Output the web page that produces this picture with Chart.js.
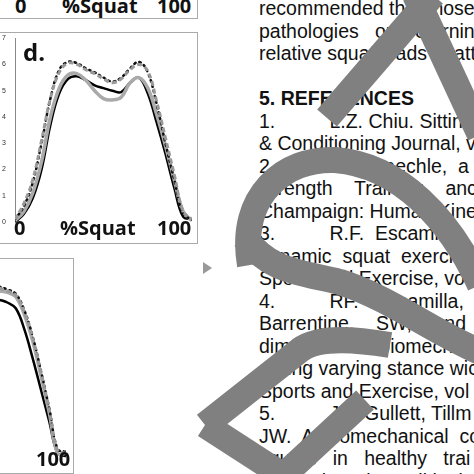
<!DOCTYPE html><html><head><meta charset="utf-8">
<script src="https://cdn.jsdelivr.net/npm/chart.js"></script>
<style>
body{margin:0;width:474px;height:474px;overflow:hidden;background:#fff;position:relative;font-family:"Liberation Sans",Arial,sans-serif}
.box{position:absolute;border:1.5px solid #aaa;box-sizing:border-box;background:#fff}
.lbl{position:absolute;font-family:"Open Sans","DejaVu Sans",sans-serif;font-weight:bold;font-size:20px;color:#111;line-height:1}
#txt{position:absolute;left:259px;top:-3px;font-size:19.5px;line-height:22.5px;color:#111;white-space:pre}
svg{position:absolute;left:0;top:0}
</style></head><body>
<div class="box" style="left:-2px;top:-10px;width:200px;height:29px"></div>
<div class="lbl" style="left:15px;top:-4px">0</div><div class="lbl" style="left:62px;top:-4px">%Squat</div><div class="lbl" style="left:157px;top:-4px">100</div>
<div class="box" style="left:-2px;top:32px;width:200px;height:212px"><canvas id="c1"></canvas></div>
<div class="lbl" style="left:23px;top:40px;font-size:24px">d.</div>
<div class="lbl" style="left:14px;top:218px">0</div><div class="lbl" style="left:60px;top:218px">%Squat</div><div class="lbl" style="left:157px;top:218px">100</div>
<div class="box" style="left:-2px;top:258px;width:76px;height:216px"><canvas id="c2"></canvas></div>
<div class="lbl" style="left:36px;top:449px">100</div>
<div class="lbl" style="left:-6px;top:449px">:</div>
<div id="txt">recommended that those
pathologies   or   returnin
relative squat loads to att

<b>5. REFERENCES</b>
1.          L.Z. Chiu. Sitting
&amp; Conditioning Journal, v
2.          TR.  Baechle,  a
Strength    Training    anc
Champaign: Human Kine
3.          R.F.  Escamilla.
dynamic  squat  exercise
Sports and Exercise, vol
4.          RF.   Escamilla,
Barrentine,    SW,    and
dimensional   biomechan
during varying stance wic
Sports and Exercise, vol
5.          JC. Gullett, Tillm
JW.  A  biomechanical  co
squats   in   healthy   trai
Strength and Conditionin</div>
<svg width="474" height="474">
<polygon points="203,262 212,268 203,274" fill="#999"/>
<g fill="none" stroke="#808080" stroke-width="26">
<path d="M327,118 L433,-5"/>
<path d="M415,-5 L480,135"/>
<path d="M250,265 C238,195 285,158 335,160 C400,165 450,220 480,285"/>
<path d="M245,238 C270,272 300,272 340,282 C390,298 430,330 480,352"/>
<path d="M205,425 L300,350 C320,335 360,340 390,345"/>
<path d="M205,425 L290,480"/>
<path d="M365,400 L285,474"/>
</g>
</svg>
<script>
const xs=[0,5,10,15,20,25,30,35,40,45,50,55,60,65,70,75,80,85,90,95,100];
const blackSolid=[0,0.3,0.9,2.0,3.7,4.9,5.45,5.55,5.4,5.2,5.1,5.0,4.95,5.3,5.5,4.9,3.8,2.6,1.3,0.2,0.1];
const greySolid=[0.05,0.4,1.1,2.3,4.0,5.1,5.6,5.65,5.4,5.0,4.7,4.65,4.75,5.3,5.5,5.1,4.1,2.9,1.6,0.4,0.05];
const blackDotted=[0.1,0.6,1.5,3.0,4.7,5.8,6.1,6.05,5.85,5.7,5.5,5.35,5.5,5.85,6.1,5.7,4.5,3.0,1.6,0.3,0.1];
const greyDashed=[0.1,0.7,1.6,3.1,4.7,5.7,6.05,6.0,5.8,5.65,5.45,5.3,5.45,5.8,6.0,5.75,4.6,3.2,1.8,0.4,0.1];
const yTicks=[0,1,2,3,4,5,6,7];
const xs2=[60,65,70,75,80,85,90,95,100];
const b2=[5.6,5.5,5.3,4.6,3.6,2.5,1.4,0.3,0.2];
const g2=[5.9,5.85,5.7,5.1,4.2,3.0,1.7,0.3,0.3];
const d2=[6.0,5.9,5.75,5.2,4.3,3.1,1.8,0.4,0.3];
const d2b=[6.05,5.95,5.8,5.25,4.35,3.15,1.85,0.45,0.35];
function pts(x,y){return x.map((v,i)=>({x:v,y:y[i]}));}
function sets(x,a,b,c,d){return [
{data:pts(x,c),borderColor:'#999',borderWidth:3,borderDash:[5,3]},
{data:pts(x,d),borderColor:'#111',borderWidth:2.5,borderDash:[1.5,4],borderCapStyle:'round'},
{data:pts(x,b),borderColor:'#aaa',borderWidth:3.5},
{data:pts(x,a),borderColor:'#000',borderWidth:2.5}];}
const common={responsive:false,animation:false,plugins:{legend:{display:false},tooltip:{enabled:false}},elements:{point:{radius:0},line:{tension:0.4}}};
const cv1=document.getElementById('c1');cv1.width=197;cv1.height=209;
new Chart(cv1,{type:'line',data:{datasets:sets(xs,blackSolid,greySolid,greyDashed,blackDotted)},
options:{...common,layout:{padding:{top:4,right:4,bottom:20}},scales:{
x:{type:'linear',min:0,max:100,display:false},
y:{min:0,max:7,afterBuildTicks:a=>{a.ticks=yTicks.map(v=>({value:v}))},afterFit:a=>{a.width=16},grid:{display:false},border:{color:'#888'},
ticks:{font:{size:7},color:'#333',padding:1}}}}});
const cv2=document.getElementById('c2');cv2.width=73;cv2.height=213;
new Chart(cv2,{type:'line',data:{datasets:sets(xs2,b2,g2,d2,d2b)},
options:{...common,layout:{padding:{top:0,right:6,bottom:10}},scales:{
x:{type:'linear',min:60,max:100,display:false},
y:{min:0,max:7,display:false}}}});
</script></body></html>
